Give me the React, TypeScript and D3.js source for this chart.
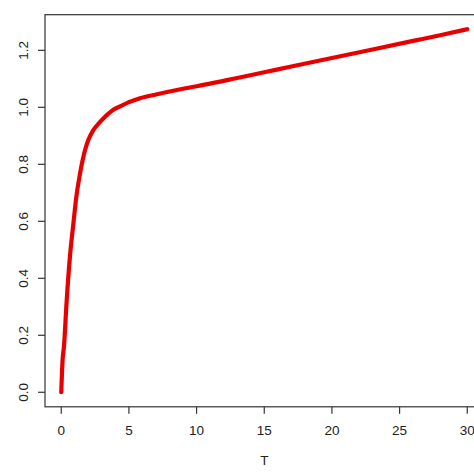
import React from "react";
import * as d3 from "d3";

const tValues = [0, 0.1, 0.2, 0.4, 0.65, 0.9, 1.1, 1.39, 1.76, 2.0, 2.37, 2.8, 3.24, 3.8, 4.34, 5, 5.82, 7, 9, 11, 13, 15, 17, 20, 23, 26, 28, 30];
const yValues = [0, 0.114, 0.16, 0.32, 0.48, 0.593, 0.68, 0.768, 0.85, 0.885, 0.92, 0.945, 0.967, 0.99, 1.003, 1.018, 1.032, 1.045, 1.065, 1.083, 1.103, 1.123, 1.143, 1.173, 1.203, 1.233, 1.253, 1.274];
const xTicks = [0, 5, 10, 15, 20, 25, 30];
const yTicks = [0, 0.2, 0.4, 0.6, 0.8, 1.0, 1.2];
const xLabel = "T";

export default function App() {
  const W = 474, H = 474;
  const left = 45, right = 483.5, top = 14.7, bottom = 406.8;
  const x = d3.scaleLinear().domain([-1.2, 31.2]).range([left, right]);
  const y = d3.scaleLinear().domain([-0.051, 1.325]).range([bottom, top]);
  const pts: [number, number][] = tValues.map((t, i) => [t, yValues[i]]);
  const line = d3.line<[number, number]>()
    .x(d => x(d[0]))
    .y(d => y(d[1]))
    .curve(d3.curveMonotoneX);
  const font = "'Liberation Sans', Arial, sans-serif";
  return (
    <div style={{ position: "fixed", left: 0, top: 0 }}>
      <svg width={W} height={H} style={{ display: "block", background: "#fff" }}>
        <rect x={left} y={top} width={right - left} height={bottom - top} fill="none" stroke="#333" strokeWidth={1.2} />
        {xTicks.map(t => (
          <g key={"x" + t}>
            <line x1={x(t)} x2={x(t)} y1={bottom} y2={bottom + 7} stroke="#333" strokeWidth={1.2} />
            <text x={x(t)} y={435} textAnchor="middle" fontSize={13.5} fontFamily={font} fill="#222">{t}</text>
          </g>
        ))}
        {yTicks.map(v => (
          <g key={"y" + v}>
            <line x1={left - 7} x2={left} y1={y(v)} y2={y(v)} stroke="#333" strokeWidth={1.2} />
            <text transform={`translate(28,${y(v)}) rotate(-90)`} textAnchor="middle" fontSize={13.5} fontFamily={font} fill="#222">{v.toFixed(1)}</text>
          </g>
        ))}
        <text x={(left + right) / 2} y={465} textAnchor="middle" fontSize={13.5} fontFamily={font} fill="#222">{xLabel}</text>
        <path d={line(pts) || ""} fill="none" stroke="#e80000" strokeWidth={4.2} strokeLinecap="round" strokeLinejoin="round" />
      </svg>
    </div>
  );
}
